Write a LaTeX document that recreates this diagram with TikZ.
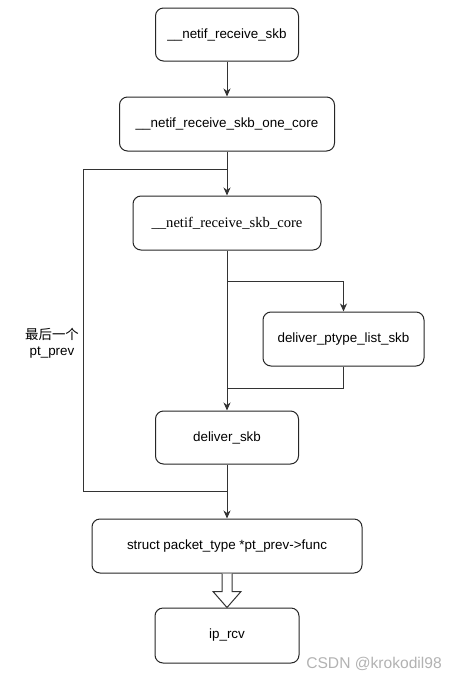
\documentclass[tikz,border=0pt]{standalone}
\usepackage{fontspec}
\setmainfont{Liberation Sans}
\newfontfamily\seriffam{Liberation Serif}
\newfontfamily\cjk{Noto Sans CJK SC}
\usetikzlibrary{arrows.meta,calc}
\begin{document}
\begin{tikzpicture}[x=1pt,y=-1pt,
  box/.style={draw=black!85,line width=1pt,rounded corners=8pt,fill=white,
    inner sep=0pt,font=\fontsize{13.4}{16}\selectfont},
  conn/.style={draw=black!80,line width=1pt},
  arr/.style={conn,-{Stealth[length=8pt,width=7pt,inset=2.5pt]}}]
\useasboundingbox (0,0) rectangle (457,680);
\node[box,minimum width=143pt,minimum height=53pt] (b1) at (227,34.5) {\_\_netif\_receive\_skb};
\node[box,minimum width=215pt,minimum height=54pt] (b2) at (227,124) {\_\_netif\_receive\_skb\_one\_core};
\node[box,minimum width=188pt,minimum height=54pt,font=\seriffam\fontsize{14.6}{17}\selectfont] (b3) at (227,223) {\_\_netif\_receive\_skb\_core};
\node[box,minimum width=161pt,minimum height=54pt] (b4) at (343.5,339) {deliver\_ptype\_list\_skb};
\node[box,minimum width=143pt,minimum height=53pt] (b5) at (227,437.5) {deliver\_skb};
\node[box,minimum width=270pt,minimum height=54pt] (b6) at (227,546) {struct packet\_type *pt\_prev->func};
\node[box,minimum width=144pt,minimum height=55pt] (b7) at (227,635.5) {ip\_rcv};
\node[align=center,inner sep=0pt,font=\fontsize{13.4}{16}\selectfont] (lbl) at (52,343) {{\cjk 最后一个}\\pt\_prev};
\node[anchor=east,inner sep=0pt,text=black!30,font=\fontsize{15.6}{18}\selectfont] (wm) at (442,664) {CSDN @krokodil98};

\coordinate (top) at (227,169);
\coordinate (bot) at (227,491);
\coordinate (br) at (227,281);
\coordinate (mg) at (227,388);

\draw[arr] (b1) -- (b2);
\draw[arr] (b2) -- (b3);
\draw[arr] (b3) -- (b5);
\draw[arr] (b5) -- (b6);
\draw[conn] (bot) -- (83,491) -- (83,169) -- (top);
\draw[arr] (br) -| (b4.north);
\draw[conn] (b4.south) |- (mg);
\draw[line width=1pt,draw=black!80,fill=white]
  ($(b6.south)+(-5,0)$) -- ($(b6.south)+(-5,18)$) -- ($(b6.south)+(-14,18)$) --
  (b7.north) -- ($(b6.south)+(14,18)$) -- ($(b6.south)+(5,18)$) -- ($(b6.south)+(5,0)$);
\end{tikzpicture}
\end{document}
